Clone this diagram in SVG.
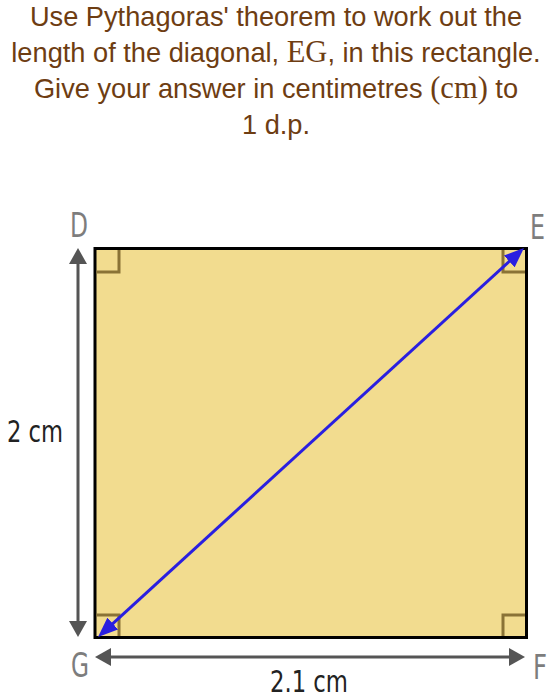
<svg xmlns="http://www.w3.org/2000/svg" width="552" height="698" viewBox="0 0 552 698">
<style>
.title{font-family:"Liberation Sans",Arial,sans-serif;font-size:28.5px;fill:#6e3d12;text-anchor:middle}
.math{font-family:"Liberation Serif","Times New Roman",serif;font-size:32px}
.vert{font-family:"DejaVu Sans Condensed","Liberation Sans Narrow","Open Sans",sans-serif;font-size:33px;fill:#7d7d7d}
.dim{font-family:"DejaVu Sans Condensed","Liberation Sans Narrow","Open Sans",sans-serif;font-size:30px;fill:#222222;font-weight:500}
.rt{fill:none;stroke:#8a7336;stroke-width:3}
.dimline{stroke:#555555;stroke-width:3;fill:none}
.diag{stroke:#2a1fe0;stroke-width:3;fill:none}
</style>
<defs>
<marker id="ag" markerUnits="userSpaceOnUse" markerWidth="16" markerHeight="18" refX="8" refY="9" orient="auto-start-reverse" viewBox="0 0 16 18">
<path d="M0,0 L16,9 L0,18 z" fill="#555555"/>
</marker>
<marker id="ab" markerUnits="userSpaceOnUse" markerWidth="20" markerHeight="16" refX="10" refY="8" orient="auto-start-reverse" viewBox="0 0 20 16">
<path d="M0,0 L20,8 L0,16 z" fill="#2a1fe0"/>
</marker>
</defs>
<rect width="552" height="698" fill="#ffffff"/>
<g id="title" transform="translate(276,0) scale(0.955,1)">
<text class="title" x="0" y="26">Use Pythagoras' theorem to work out the</text>
<text class="title" x="0" y="62">length of the diagonal, <tspan class="math">EG</tspan>, in this rectangle.</text>
<text class="title" x="0" y="98">Give your answer in centimetres <tspan class="math">(cm)</tspan> to</text>
<text class="title" x="0" y="134">1 d.p.</text>
</g>
<g id="rectangle">
<rect x="95" y="248.5" width="431.5" height="389" fill="#f2dc8f" stroke="#000000" stroke-width="3"/>
<path class="rt" d="M96.5,272 H119 V250"/>
<path class="rt" d="M525,272 H503 V250"/>
<path class="rt" d="M96.5,615 H119 V636"/>
<path class="rt" d="M525,615 H503 V636"/>
</g>
<g id="connectors">
<line class="dimline" x1="78" y1="256" x2="78" y2="629" marker-start="url(#ag)" marker-end="url(#ag)"/>
<line class="dimline" x1="103" y1="657" x2="517" y2="657" marker-start="url(#ag)" marker-end="url(#ag)"/>
<line class="diag" x1="105.4" y1="630.3" x2="516.6" y2="254.7" marker-start="url(#ab)" marker-end="url(#ab)"/>
</g>
<g id="label-D"><text class="vert" x="70" y="237" textLength="18" lengthAdjust="spacingAndGlyphs">D</text></g>
<g id="label-E"><text class="vert" x="530" y="239" textLength="15" lengthAdjust="spacingAndGlyphs">E</text></g>
<g id="label-G"><text class="vert" x="71" y="677" textLength="18" lengthAdjust="spacingAndGlyphs">G</text></g>
<g id="label-F"><text class="vert" x="533" y="679" textLength="14" lengthAdjust="spacingAndGlyphs">F</text></g>
<g id="label-height"><text class="dim" x="7" y="442" textLength="56" lengthAdjust="spacingAndGlyphs">2 cm</text></g>
<g id="label-width"><text class="dim" x="270" y="692" textLength="78" lengthAdjust="spacingAndGlyphs">2.1 cm</text></g>
</svg>
